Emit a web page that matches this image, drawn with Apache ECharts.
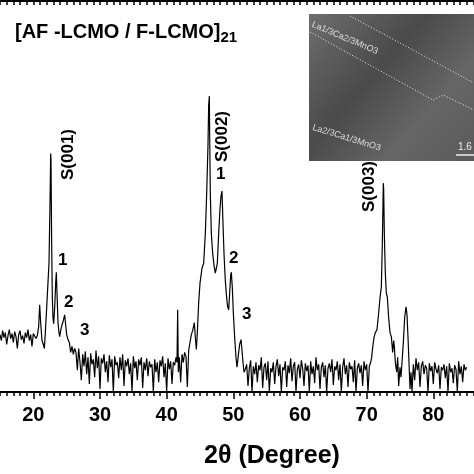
<!DOCTYPE html>
<html>
<head>
<meta charset="utf-8">
<script src="https://cdn.jsdelivr.net/npm/echarts@6/dist/echarts.min.js"></script>
<style>html,body{margin:0;padding:0;background:#fff}#chart{width:474px;height:474px}</style>
</head>
<body>
<div id="chart"></div>
<script>
// noise segments: start angle, step, hand-read intensities
var segA = { start: 15.0, step: 0.2, vals: [58,52,62,55,60,48,57,63,54,59,50,61,56,44,58,62,53,57,49,60,55,63,52,58,46,59,61,54,57] };
var peak001 = [[20.8,66],[20.95,88],[21.1,70],[21.3,52],[21.5,48],[21.65,44],[21.8,60],[22.0,85],[22.2,111],[22.35,130],[22.5,190],[22.6,241],[22.65,235],[22.75,150],[22.85,95],[22.95,75],[23.05,69],[23.2,85],[23.35,110],[23.45,121],[23.55,100],[23.7,70],[23.85,60],[23.95,56],[24.1,62],[24.3,68],[24.5,72],[24.7,78],[24.85,68],[25.0,58],[25.2,53],[25.4,50],[25.6,40],[25.8,46],[26.0,38],[26.2,44]];
var segB = { start: 26.4, step: 0.2, vals: [40,22,44,30,12,38,26,41,18,35,8,39,28,33,15,42,24,36,3,34,29,38,20,31,10,37,25,33,0,36,27,30,14,35,22,38,6,32,26,34,18,29,0,36,24,31,12,33,27,35,4,30,22,34,16,31,25,28,0,33,20,30,10,32,26,36,15,29,0,34,23,31,8,30,27,35] };
var peak002 = [[41.55,30],[41.65,83],[41.75,20],[41.9,35],[42.1,10],[42.3,38],[42.5,30],[42.7,40],[42.9,36],[43.1,5],[43.3,42],[43.5,50],[43.7,58],[43.9,62],[44.15,70],[44.3,55],[44.45,43],[44.6,60],[44.8,90],[45.0,110],[45.3,125],[45.55,130],[45.8,160],[46.0,200],[46.2,250],[46.3,290],[46.4,299],[46.45,260],[46.55,200],[46.7,160],[46.9,140],[47.1,128],[47.3,120],[47.45,118],[47.6,130],[47.8,160],[48.0,185],[48.15,198],[48.3,203],[48.45,170],[48.6,140],[48.8,112],[49.0,95],[49.15,86],[49.3,83],[49.45,100],[49.6,118],[49.7,121],[49.85,105],[50.0,80],[50.2,55],[50.4,35],[50.55,25],[50.65,23],[50.8,40],[50.95,48],[51.15,53],[51.3,42],[51.45,30],[51.6,20],[51.8,23]];
var segC = { start: 52.0, step: 0.2, vals: [28,6,24,32,0,26,18,30,10,27,22,35,4,25,29,12,31,0,24,20,30,8,26,33,16,28,0,25,22,31,5,27,19,34,11,26,30,0,23,28,14,32,24,6,29,21,27,0,31,18,26,9,35,22,28,3,25,30,15,27,0,24,29,20,33,7,26,22,31,12,28,0,25,34,18,27,5,30,23,26,10,32,0,24,29,19,27,6,31,22,28,0,26,30] };
var peak003 = [[70.75,35],[70.9,45],[71.1,55],[71.3,60],[71.55,63],[71.8,80],[72.0,95],[72.2,106],[72.35,150],[72.5,211],[72.55,205],[72.65,160],[72.8,120],[72.95,100],[73.1,96],[73.3,75],[73.5,60],[73.7,56],[73.9,40],[74.05,52],[74.15,46],[74.3,30],[74.5,20],[74.65,35],[74.8,6],[75.0,25],[75.15,15],[75.3,30],[75.5,50],[75.7,75],[75.9,86],[76.05,78],[76.2,55],[76.35,30],[76.5,3],[76.65,20],[76.8,0]];
var segD = { start: 77.0, step: 0.2, vals: [28,12,34,22,30,5,26,31,18,27,24,0,29,21,26,8,30,23,19,27,3,25,22,28,14,26,0,29,20,24,9,27,23,0,31,18,26,10,28,22,25] };
var xTicks = [20, 30, 40, 50, 60, 70, 80];

function seg(s) {
    return s.vals.map(function(v, i) { return [+(s.start + i * s.step).toFixed(2), v]; });
}
var data = [].concat(seg(segA), peak001, seg(segB), peak002, seg(segC), peak003, seg(segD));

function txt(x, y, s, size, rot) {
    return { type: 'text', x: x, y: y, rotation: rot || 0, z: 10, style: { text: s, font: 'bold ' + size + 'px Arial, "Liberation Sans", sans-serif', fill: '#000' } };
}
var blk = { color: '#000', width: 1.5 };

var option = {
    animation: false,
    grid: { left: 0, right: 0, top: 1, bottom: 78 },
    xAxis: [{
        // minor ticks + labels
        type: 'value', min: 15, max: 86.1, interval: 1,
        axisLine: { lineStyle: { color: '#000', width: 2 } },
        axisTick: { length: 4, lineStyle: blk },
        splitLine: { show: false },
        axisLabel: {
            customValues: xTicks, margin: 13, color: '#000', fontSize: 20, fontWeight: 'bold', fontFamily: 'Arial'
        },
        name: '2θ (Degree)', nameLocation: 'middle', nameGap: 52,
        nameTextStyle: { color: '#000', fontSize: 25, fontWeight: 'bold', fontFamily: 'Arial', padding: [0, 0, 0, 70] }
    }, {
        // major ticks
        type: 'value', min: 15, max: 86.1, position: 'bottom',
        axisLine: { show: false },
        axisTick: { customValues: xTicks, length: 7, lineStyle: blk },
        axisLabel: { show: false }, splitLine: { show: false }
    }, {
        type: 'value', min: 15, max: 86.1, interval: 1, position: 'top',
        axisLine: { lineStyle: { color: '#000', width: 2 } },
        axisTick: { inside: true, length: 4, lineStyle: blk },
        axisLabel: { show: false }, splitLine: { show: false }
    }],
    yAxis: { type: 'value', min: 0, max: 395, show: false },
    series: [{
        type: 'line', data: data, showSymbol: false, z: 5,
        lineStyle: { color: '#000', width: 1.2 }
    }],
    graphic: [
        { type: 'text', x: 15, y: 20, style: { text: '{a|[AF -LCMO / F-LCMO]}{b|21}', rich: { a: { font: 'bold 20px Arial, sans-serif', fill: '#000' }, b: { font: 'bold 15px Arial, sans-serif', fill: '#000', padding: [10, 0, 0, 0] } } } },
        { type: 'rect', shape: { x: 309, y: 14, width: 165, height: 147 },
          style: { fill: new echarts.graphic.LinearGradient(0, 0, 1, 1, [{ offset: 0, color: '#6e6e6e' }, { offset: 0.4, color: '#4a4a4a' }, { offset: 0.7, color: '#666' }, { offset: 1, color: '#5a5a5a' }]) } },
        { type: 'polyline', shape: { points: [[350, 16], [474, 83]] }, style: { stroke: '#eee', lineWidth: 1, lineDash: [1, 2] } },
        { type: 'polyline', shape: { points: [[310, 32], [433, 100], [443, 95], [474, 110]] }, style: { stroke: '#eee', lineWidth: 1, lineDash: [1, 2] } },
        { type: 'text', x: 314, y: 20, rotation: -0.4, style: { text: 'La1/3Ca2/3MnO3', font: '9px Arial', fill: '#ddd' } },
        { type: 'text', x: 314, y: 123, rotation: -0.3, style: { text: 'La2/3Ca1/3MnO3', font: '9px Arial', fill: '#ddd' } },
        { type: 'text', x: 458, y: 142, style: { text: '1.6', font: '10px Arial', fill: '#eee' } },
        { type: 'line', shape: { x1: 456, y1: 155, x2: 474, y2: 155 }, style: { stroke: '#eee', lineWidth: 1.5 } },
        txt(60, 180, 'S(001)', 17, Math.PI / 2),
        txt(214, 162, 'S(002)', 17, Math.PI / 2),
        txt(361, 212, 'S(003)', 17, Math.PI / 2),
        txt(58, 252, '1', 17), txt(64, 294, '2', 17), txt(80, 322, '3', 17),
        txt(216, 166, '1', 17), txt(229, 250, '2', 17), txt(242, 306, '3', 17)
    ]
};
var myChart = echarts.init(document.getElementById('chart'));
myChart.setOption(option);
</script>
</body>
</html>
